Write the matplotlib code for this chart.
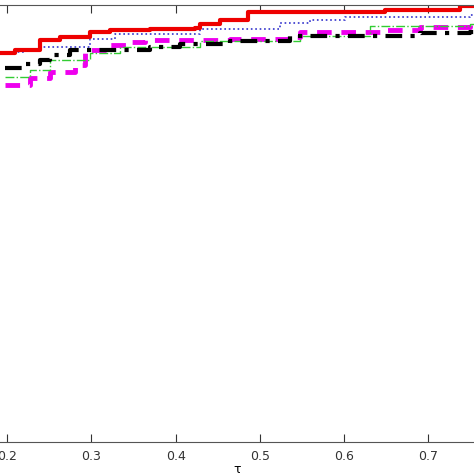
import matplotlib
matplotlib.use("Agg")
import matplotlib.pyplot as plt

red_x = [0.1917, 0.2095, 0.2391, 0.2629, 0.2985, 0.3222, 0.3696, 0.423, 0.4289, 0.4527, 0.4859, 0.6484, 0.7374, 0.754]
red_y = [0.890, 0.897, 0.920, 0.927, 0.938, 0.943, 0.945, 0.947, 0.957, 0.966, 0.984, 0.989, 0.998, 0.998]
blue_x = [0.1917, 0.2214, 0.2391, 0.2985, 0.3281, 0.4289, 0.5238, 0.5594, 0.601, 0.7136, 0.7493, 0.754]
blue_y = [0.892, 0.897, 0.904, 0.922, 0.934, 0.945, 0.959, 0.966, 0.973, 0.973, 0.977, 0.977]
green_x = [0.1976, 0.2273, 0.251, 0.2985, 0.334, 0.4289, 0.5476, 0.6306, 0.7493, 0.754]
green_y = [0.835, 0.851, 0.874, 0.890, 0.904, 0.918, 0.929, 0.952, 0.957, 0.957]
black_x = [0.1976, 0.2214, 0.2391, 0.251, 0.2747, 0.2985, 0.3696, 0.4052, 0.4645, 0.5357, 0.6899, 0.7493, 0.754]
black_y = [0.856, 0.865, 0.874, 0.886, 0.897, 0.897, 0.904, 0.911, 0.918, 0.929, 0.936, 0.938, 0.938]
mag_x = [0.1976, 0.2273, 0.251, 0.2807, 0.2925, 0.3222, 0.3459, 0.3637, 0.4645, 0.5357, 0.5476, 0.6425, 0.6899, 0.7493, 0.754]
mag_y = [0.817, 0.833, 0.847, 0.863, 0.897, 0.908, 0.915, 0.920, 0.922, 0.927, 0.938, 0.943, 0.950, 0.954, 0.954]
xticks = [0.2, 0.3, 0.4, 0.5, 0.6, 0.7]

fig = plt.figure(figsize=(4.74, 4.74), dpi=100)
ax = fig.add_axes([0, 1 - 442/474, 1, (442 - 5)/474])
ax.plot(mag_x, mag_y, color='#ee00ee', ls=(0, (3, 2)), lw=3.5, drawstyle='steps-post')
ax.plot(green_x, green_y, color='#33cc33', ls='-.', lw=1, drawstyle='steps-post')
ax.plot(black_x, black_y, color='black', ls=(0, (4, 2, 1, 2)), lw=3, drawstyle='steps-post')
ax.plot(blue_x, blue_y, color='#3333cc', ls=':', lw=1.2, drawstyle='steps-post')
ax.plot(red_x, red_y, color='#ee0000', ls='-', lw=3, drawstyle='steps-post')
ax.set_xlim(0.1917, 0.754)
ax.set_ylim(0, 1)
ax.set_xticks(xticks)
ax.set_xticklabels([f"{t:.1f}" for t in xticks], fontsize=9)
ax.set_yticks([])
ax.tick_params(axis='x', direction='in', top=True, length=6, pad=6, colors='#333333')
for s in ['left', 'right']:
    ax.spines[s].set_visible(False)
for s in ['top', 'bottom']:
    ax.spines[s].set_color('#555555')
ax.set_xlabel('τ', fontsize=9, labelpad=0)
fig.savefig('out.png', dpi=100)
